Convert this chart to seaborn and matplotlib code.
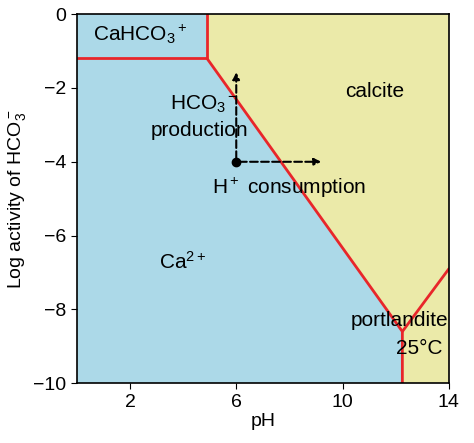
import matplotlib
matplotlib.use("Agg")
import matplotlib.pyplot as plt
import seaborn as sns

sns.set_style("ticks")
plt.rcParams['font.family'] = ['Liberation Sans', 'DejaVu Sans']
plt.rcParams['text.color'] = 'black'
plt.rcParams['axes.labelcolor'] = 'black'
plt.rcParams['xtick.color'] = 'black'
plt.rcParams['ytick.color'] = 'black'
plt.rcParams['axes.edgecolor'] = 'black'
plt.rcParams['mathtext.fontset'] = 'custom'
plt.rcParams['mathtext.rm'] = 'Liberation Sans'
plt.rcParams['mathtext.it'] = 'Liberation Sans'
plt.rcParams['mathtext.default'] = 'regular'

# boundary polyline data (pH, log aHCO3-)
calcite_x = [4.9, 4.9, 12.25, 14.0, 14.0]
calcite_y = [0.0, -1.2, -8.6, -6.9, 0.0]
port_x = [12.25, 14.0, 14.0, 12.25]
port_y = [-8.6, -6.9, -10.0, -10.0]
b1_x = [0, 4.9, 4.9]; b1_y = [-1.2, -1.2, 0]
b2_x = [4.9, 12.25, 12.25]; b2_y = [-1.2, -8.6, -10]
b3_x = [12.25, 14.0]; b3_y = [-8.6, -6.9]
xticks = [2, 6, 10, 14]
yticks = [0, -2, -4, -6, -8, -10]

fig = plt.figure(figsize=(4.74, 4.43), dpi=100)
ax = fig.add_axes([0.162, 0.135, 0.785, 0.833])
blue = '#acd9e8'; yellow = '#ebeaa9'; red = '#e8262a'
ax.set_facecolor(blue)
ax.fill(calcite_x, calcite_y, color=yellow, lw=0)
ax.fill(port_x, port_y, color=yellow, lw=0)
for xs, ys in [(b1_x, b1_y), (b2_x, b2_y), (b3_x, b3_y)]:
    sns.lineplot(x=xs, y=ys, sort=False, estimator=None, color=red, lw=2, ax=ax)

ax.set_xlim(0, 14); ax.set_ylim(-10, 0)
ax.set_xticks(xticks); ax.set_yticks(yticks)
ax.set_yticklabels(['0', '−2', '−4', '−6', '−8', '−10'])
ax.tick_params(labelsize=14, direction='out', length=4)
ax.set_xlabel('pH', fontsize=14, labelpad=2)
ax.set_ylabel('Log activity of HCO$_3^-$', fontsize=14)
for s in ax.spines.values():
    s.set_linewidth(1.2)

ax.plot([6], [-4], 'ko', ms=6)
ax.annotate('', xy=(6, -1.5), xytext=(6, -4),
            arrowprops=dict(arrowstyle='-|>', ls='--', color='k', lw=1.5))
ax.annotate('', xy=(9.3, -4), xytext=(6, -4),
            arrowprops=dict(arrowstyle='-|>', ls='--', color='k', lw=1.5))

fs = 15
ax.text(2.4, -0.55, 'CaHCO$_3$$^+$', fontsize=fs, ha='center', va='center')
ax.text(11.2, -2.1, 'calcite', fontsize=fs, ha='center', va='center')
ax.text(4.8, -2.45, 'HCO$_3$$^-$', fontsize=fs, ha='center', va='center')
ax.text(4.6, -3.15, 'production', fontsize=fs, ha='center', va='center')
ax.text(8.0, -4.7, 'H$^+$ consumption', fontsize=fs, ha='center', va='center')
ax.text(4.0, -6.7, 'Ca$^{2+}$', fontsize=fs, ha='center', va='center')
ax.text(13.97, -8.3, 'portlandite', fontsize=fs, ha='right', va='center')
ax.text(12.9, -9.05, '25°C', fontsize=fs, ha='center', va='center')

fig.savefig('out.png', dpi=100)
